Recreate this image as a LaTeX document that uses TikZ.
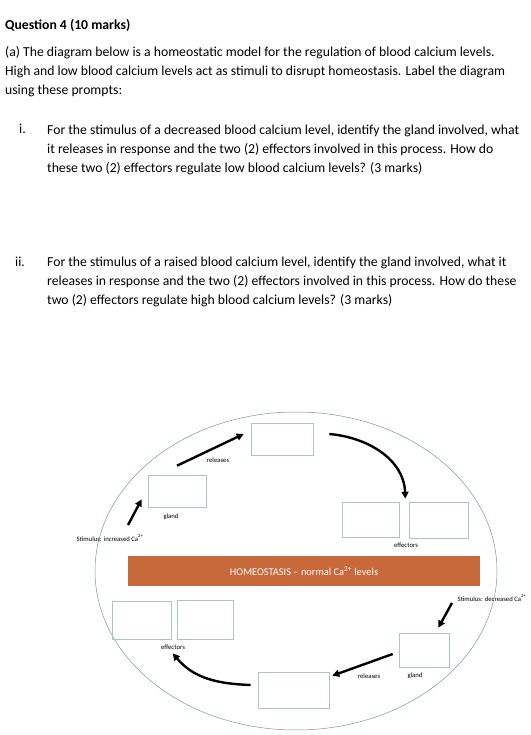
\documentclass[tikz,border=0pt]{standalone}
\usepackage{fontspec}
\setmainfont{Carlito}
\usetikzlibrary{positioning,arrows}
\usetikzlibrary{shapes}
\usetikzlibrary{arrows.meta}
\usepackage{xcolor}
\definecolor{barorange}{HTML}{C8693B}
\definecolor{boxline}{HTML}{A9C6C6}
\definecolor{ringline}{HTML}{6F9C9C}

\begin{document}
\begin{tikzpicture}[x=1pt,y=1pt]
	\useasboundingbox (0,0) rectangle (530,735);
	\tikzstyle{every node}=[font=\fontsize{13.7pt}{19.2pt}\selectfont, inner sep=0pt, anchor=base west, align=left]
	\draw (5,705) node (title) {\textbf{Question 4 (10 marks)}};
	\draw (5,640) node (intro) {(a) The diagram below is a homeostatic model for the regulation of blood calcium levels.\\High and low blood calcium levels act as stimuli to disrupt homeostasis. Label the diagram\\using these prompts:};
	\draw (19,601) node (numi) {i.};
	\draw (47,562) node (parti) {For the stimulus of a decreased blood calcium level, identify the gland involved, what\\it releases in response and the two (2) effectors involved in this process. How do\\these two (2) effectors regulate low blood calcium levels? (3 marks)};
	\draw (15,468) node (numii) {ii.};
	\draw (47,430) node (partii) {For the stimulus of a raised blood calcium level, identify the gland involved, what it\\releases in response and the two (2) effectors involved in this process. How do these\\two (2) effectors regulate high blood calcium levels? (3 marks)};

	\tikzstyle{every node}=[inner sep=0pt, anchor=center]
	\tikzstyle{box}=[draw=boxline, line width=0.6pt, rectangle]
	\tikzstyle{lbl}=[font=\fontsize{6.7pt}{7pt}\selectfont]
	\tikzstyle{arr}=[line width=2.4pt, -{Triangle[length=7pt,width=7pt]}]
	\draw [ringline, line width=0.5pt] (296,164) ellipse [x radius=201, y radius=159];
	\draw (304,164) node (homeo) [fill=barorange, minimum width=352pt, minimum height=30pt, text=white, font=\fontsize{10.4pt}{11pt}\selectfont] {HOMEOSTASIS -- normal Ca\textsuperscript{2+} levels};

	% raised calcium, top half
	\draw (110,197) node (stimup) [lbl] {Stimulus: increased Ca\textsuperscript{2+}};
	\draw (177,244) node (glandup) [box, minimum width=58pt, minimum height=32pt] {};
	\draw (282,296) node (relup) [box, minimum width=62pt, minimum height=32pt] {};
	\draw (370.5,215.5) node (effupa) [box, minimum width=57pt, minimum height=35pt] {};
	\draw (438.5,215) node (effupb) [box, minimum width=59pt, minimum height=36pt] {};
	\draw (171,218) node (glanduplbl) [lbl] {gland};
	\draw (218,275) node (reluplbl) [lbl] {releases};
	\draw (406,190) node (effuplbl) [lbl] {effectors};
	\draw [arr] ([shift={(18,13)}]stimup.center) -- ([shift={(-6,8)}]glandup.south west);
	\draw [arr] ([shift={(0,9)}]glandup.north) -- ([shift={(-7,5)}]relup.west);
	\draw [arr] ([shift={(16,5)}]relup.east) to [out=-5, in=92] ([shift={(6,3)}]effupa.north east);

	% lowered calcium, bottom half
	\draw (492,137) node (stimdown) [lbl] {Stimulus: decreased Ca\textsuperscript{2+}};
	\draw (424,85) node (glanddown) [box, minimum width=50pt, minimum height=34pt] {};
	\draw (293.5,45) node (reldown) [box, minimum width=71pt, minimum height=36pt] {};
	\draw (141.5,115) node (effdowna) [box, minimum width=59pt, minimum height=38pt] {};
	\draw (205,115.5) node (effdownb) [box, minimum width=56pt, minimum height=39pt] {};
	\draw (415,59) node (glanddownlbl) [lbl] {gland};
	\draw (369,59) node (reldownlbl) [lbl] {releases};
	\draw (173,88) node (effdownlbl) [lbl] {effectors};
	\draw [arr] ([shift={(-40,-5)}]stimdown.center) -- ([shift={(-11,5)}]glanddown.north east);
	\draw [arr] ([shift={(-6,-4)}]glanddown.west) -- ([shift={(3,-4)}]reldown.north east);
	\draw [arr] ([shift={(-7,5)}]reldown.west) to [out=178, in=-50] ([shift={(-4,-14)}]effdownb.south west);
\end{tikzpicture}
\end{document}
